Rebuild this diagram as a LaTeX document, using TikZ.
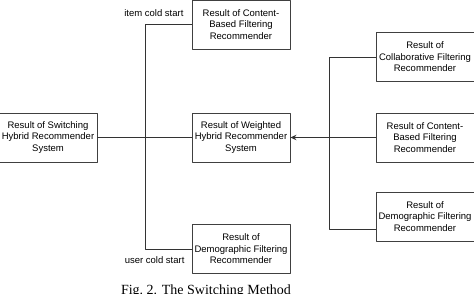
\documentclass[tikz,border=0pt]{standalone}
\usepackage{fontspec}
\setmainfont{Liberation Sans}
\newfontfamily\capfont{Liberation Serif}
\usetikzlibrary{arrows.meta}

\begin{document}
\begin{tikzpicture}[
  x=1pt,
  y=-1pt,
  line cap=round,
  line join=round,
  resbox/.style={
    draw=black!75,
    line width=0.9pt,
    minimum width=98pt,
    minimum height=49pt,
    align=center,
    inner sep=1pt,
    font=\fontsize{9.5}{11.5}\selectfont
  },
  link/.style={draw=black!80, line width=0.9pt},
  cold/.style={font=\fontsize{9.5}{11.5}\selectfont}
]
  \useasboundingbox (0,0) rectangle (474,294);

  % Boxes
  \node[resbox] (switch) at (48,137.5)
    {Result of Switching\\Hybrid Recommender\\System};
  \node[resbox] (content) at (241,24.5)
    {Result of Content-\\Based Filtering\\Recommender};
  \node[resbox] (weighted) at (241,137.5)
    {Result of Weighted\\Hybrid Recommender\\System};
  \node[resbox] (demo) at (241,249)
    {Result of\\Demographic Filtering\\Recommender};
  \node[resbox] (collabR) at (425,57)
    {Result of\\Collaborative Filtering\\Recommender};
  \node[resbox] (contentR) at (425,137.5)
    {Result of Content-\\Based Filtering\\Recommender};
  \node[resbox] (demoR) at (425,216.5)
    {Result of\\Demographic Filtering\\Recommender};

  % Left branch
  \coordinate (LT) at (145,24.5);
  \coordinate (LB) at (145,249);
  \draw[link] (switch.east) -- (weighted.west);
  \draw[link] (content.west) -- (LT) -- (LB) -- (demo.west);

  % Right branch
  \coordinate (RT) at (329,57);
  \coordinate (RB) at (329,229);
  \coordinate (DR) at (demoR.west |- RB);
  \draw[link] (collabR.west) -- (RT) -- (RB) -- (DR);
  \draw[link, -{Stealth[length=6pt,width=5.5pt,inset=2pt]}]
    (contentR.west) -- (weighted.east);

  % Labels
  \node[cold, anchor=east] (item) at (187,13) {item cold start};
  \node[cold, anchor=east] (user) at (188,260) {user cold start};

  % Caption
  \node[anchor=base, font=\capfont\fontsize{14}{16}\selectfont] (caption)
    at (206,294) {Fig.~2. The Switching Method};
\end{tikzpicture}
\end{document}
